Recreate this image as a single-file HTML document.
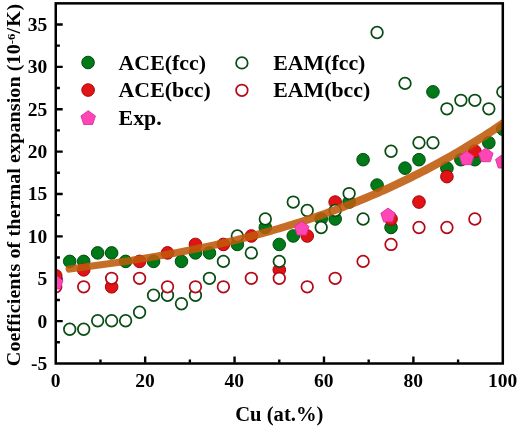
<!DOCTYPE html>
<html><head><meta charset="utf-8"><title>Coefficients of thermal expansion</title>
<style>html,body{margin:0;padding:0;background:#fff;}svg{display:block;}</style></head>
<body>
<svg width="520" height="428" viewBox="0 0 520 428">
<rect width="520" height="428" fill="#fff"/>
<defs><clipPath id="c"><rect x="55.75" y="3.35" width="447.05" height="360.15"/></clipPath></defs>
<path d="M56.5 321.12h6.2 M56.5 278.74h6.2 M56.5 236.36h6.2 M56.5 193.98h6.2 M56.5 151.60h6.2 M56.5 109.22h6.2 M56.5 66.84h6.2 M56.5 24.46h6.2 M56.5 342.31h3.4 M56.5 299.93h3.4 M56.5 257.55h3.4 M56.5 215.17h3.4 M56.5 172.79h3.4 M56.5 130.41h3.4 M56.5 88.03h3.4 M56.5 45.65h3.4 M145.16 362.8v-6.3 M234.57 362.8v-6.3 M323.98 362.8v-6.3 M413.39 362.8v-6.3 M100.46 362.8v-3.4 M189.87 362.8v-3.4 M279.27 362.8v-3.4 M368.69 362.8v-3.4 M458.10 362.8v-3.4" stroke="#000" stroke-width="2.4" fill="none"/>
<g clip-path="url(#c)">
<circle cx="69.72" cy="261.39" r="6.3" fill="#007a18" stroke="#004d0c" stroke-width="1"/>
<circle cx="83.69" cy="261.39" r="6.3" fill="#007a18" stroke="#004d0c" stroke-width="1"/>
<circle cx="97.66" cy="252.91" r="6.3" fill="#007a18" stroke="#004d0c" stroke-width="1"/>
<circle cx="111.63" cy="252.91" r="6.3" fill="#007a18" stroke="#004d0c" stroke-width="1"/>
<circle cx="125.60" cy="261.39" r="6.3" fill="#007a18" stroke="#004d0c" stroke-width="1"/>
<circle cx="153.54" cy="261.39" r="6.3" fill="#007a18" stroke="#004d0c" stroke-width="1"/>
<circle cx="181.48" cy="261.39" r="6.3" fill="#007a18" stroke="#004d0c" stroke-width="1"/>
<circle cx="195.45" cy="252.91" r="6.3" fill="#007a18" stroke="#004d0c" stroke-width="1"/>
<circle cx="209.42" cy="252.91" r="6.3" fill="#007a18" stroke="#004d0c" stroke-width="1"/>
<circle cx="237.36" cy="244.44" r="6.3" fill="#007a18" stroke="#004d0c" stroke-width="1"/>
<circle cx="265.30" cy="227.48" r="6.3" fill="#007a18" stroke="#004d0c" stroke-width="1"/>
<circle cx="279.27" cy="244.44" r="6.3" fill="#007a18" stroke="#004d0c" stroke-width="1"/>
<circle cx="293.25" cy="235.96" r="6.3" fill="#007a18" stroke="#004d0c" stroke-width="1"/>
<circle cx="321.19" cy="219.01" r="6.3" fill="#007a18" stroke="#004d0c" stroke-width="1"/>
<circle cx="335.16" cy="219.01" r="6.3" fill="#007a18" stroke="#004d0c" stroke-width="1"/>
<circle cx="349.13" cy="202.06" r="6.3" fill="#007a18" stroke="#004d0c" stroke-width="1"/>
<circle cx="363.10" cy="159.68" r="6.3" fill="#007a18" stroke="#004d0c" stroke-width="1"/>
<circle cx="377.07" cy="185.10" r="6.3" fill="#007a18" stroke="#004d0c" stroke-width="1"/>
<circle cx="391.04" cy="227.48" r="6.3" fill="#007a18" stroke="#004d0c" stroke-width="1"/>
<circle cx="405.01" cy="168.15" r="6.3" fill="#007a18" stroke="#004d0c" stroke-width="1"/>
<circle cx="418.98" cy="159.68" r="6.3" fill="#007a18" stroke="#004d0c" stroke-width="1"/>
<circle cx="432.95" cy="91.87" r="6.3" fill="#007a18" stroke="#004d0c" stroke-width="1"/>
<circle cx="446.92" cy="168.15" r="6.3" fill="#007a18" stroke="#004d0c" stroke-width="1"/>
<circle cx="460.89" cy="159.68" r="6.3" fill="#007a18" stroke="#004d0c" stroke-width="1"/>
<circle cx="474.86" cy="159.68" r="6.3" fill="#007a18" stroke="#004d0c" stroke-width="1"/>
<circle cx="488.83" cy="142.72" r="6.3" fill="#007a18" stroke="#004d0c" stroke-width="1"/>
<circle cx="502.80" cy="129.16" r="6.3" fill="#007a18" stroke="#004d0c" stroke-width="1"/>
<circle cx="55.75" cy="275.80" r="6.3" fill="#e01414" stroke="#a8000c" stroke-width="1"/>
<circle cx="83.69" cy="269.86" r="6.3" fill="#e01414" stroke="#a8000c" stroke-width="1"/>
<circle cx="111.63" cy="286.82" r="6.3" fill="#e01414" stroke="#a8000c" stroke-width="1"/>
<circle cx="139.57" cy="261.39" r="6.3" fill="#e01414" stroke="#a8000c" stroke-width="1"/>
<circle cx="167.51" cy="252.91" r="6.3" fill="#e01414" stroke="#a8000c" stroke-width="1"/>
<circle cx="195.45" cy="244.44" r="6.3" fill="#e01414" stroke="#a8000c" stroke-width="1"/>
<circle cx="223.39" cy="244.44" r="6.3" fill="#e01414" stroke="#a8000c" stroke-width="1"/>
<circle cx="251.33" cy="235.96" r="6.3" fill="#e01414" stroke="#a8000c" stroke-width="1"/>
<circle cx="279.27" cy="269.86" r="6.3" fill="#e01414" stroke="#a8000c" stroke-width="1"/>
<circle cx="307.22" cy="235.96" r="6.3" fill="#e01414" stroke="#a8000c" stroke-width="1"/>
<circle cx="335.16" cy="202.06" r="6.3" fill="#e01414" stroke="#a8000c" stroke-width="1"/>
<circle cx="391.04" cy="219.01" r="6.3" fill="#e01414" stroke="#a8000c" stroke-width="1"/>
<circle cx="418.98" cy="202.06" r="6.3" fill="#e01414" stroke="#a8000c" stroke-width="1"/>
<circle cx="446.92" cy="176.63" r="6.3" fill="#e01414" stroke="#a8000c" stroke-width="1"/>
<circle cx="474.86" cy="151.20" r="6.3" fill="#e01414" stroke="#a8000c" stroke-width="1"/>
<circle cx="69.72" cy="329.20" r="5.8" fill="#fff" stroke="#0a4d14" stroke-width="1.75"/>
<circle cx="83.69" cy="329.20" r="5.8" fill="#fff" stroke="#0a4d14" stroke-width="1.75"/>
<circle cx="97.66" cy="320.72" r="5.8" fill="#fff" stroke="#0a4d14" stroke-width="1.75"/>
<circle cx="111.63" cy="320.72" r="5.8" fill="#fff" stroke="#0a4d14" stroke-width="1.75"/>
<circle cx="125.60" cy="320.72" r="5.8" fill="#fff" stroke="#0a4d14" stroke-width="1.75"/>
<circle cx="139.57" cy="312.24" r="5.8" fill="#fff" stroke="#0a4d14" stroke-width="1.75"/>
<circle cx="153.54" cy="295.29" r="5.8" fill="#fff" stroke="#0a4d14" stroke-width="1.75"/>
<circle cx="167.51" cy="295.29" r="5.8" fill="#fff" stroke="#0a4d14" stroke-width="1.75"/>
<circle cx="181.48" cy="303.77" r="5.8" fill="#fff" stroke="#0a4d14" stroke-width="1.75"/>
<circle cx="195.45" cy="295.29" r="5.8" fill="#fff" stroke="#0a4d14" stroke-width="1.75"/>
<circle cx="209.42" cy="278.34" r="5.8" fill="#fff" stroke="#0a4d14" stroke-width="1.75"/>
<circle cx="223.39" cy="261.39" r="5.8" fill="#fff" stroke="#0a4d14" stroke-width="1.75"/>
<circle cx="237.36" cy="235.96" r="5.8" fill="#fff" stroke="#0a4d14" stroke-width="1.75"/>
<circle cx="251.33" cy="252.91" r="5.8" fill="#fff" stroke="#0a4d14" stroke-width="1.75"/>
<circle cx="265.30" cy="219.01" r="5.8" fill="#fff" stroke="#0a4d14" stroke-width="1.75"/>
<circle cx="279.27" cy="261.39" r="5.8" fill="#fff" stroke="#0a4d14" stroke-width="1.75"/>
<circle cx="293.25" cy="202.06" r="5.8" fill="#fff" stroke="#0a4d14" stroke-width="1.75"/>
<circle cx="307.22" cy="210.53" r="5.8" fill="#fff" stroke="#0a4d14" stroke-width="1.75"/>
<circle cx="321.19" cy="227.48" r="5.8" fill="#fff" stroke="#0a4d14" stroke-width="1.75"/>
<circle cx="335.16" cy="210.53" r="5.8" fill="#fff" stroke="#0a4d14" stroke-width="1.75"/>
<circle cx="349.13" cy="193.58" r="5.8" fill="#fff" stroke="#0a4d14" stroke-width="1.75"/>
<circle cx="363.10" cy="219.01" r="5.8" fill="#fff" stroke="#0a4d14" stroke-width="1.75"/>
<circle cx="377.07" cy="32.54" r="5.8" fill="#fff" stroke="#0a4d14" stroke-width="1.75"/>
<circle cx="391.04" cy="151.20" r="5.8" fill="#fff" stroke="#0a4d14" stroke-width="1.75"/>
<circle cx="405.01" cy="83.39" r="5.8" fill="#fff" stroke="#0a4d14" stroke-width="1.75"/>
<circle cx="418.98" cy="142.72" r="5.8" fill="#fff" stroke="#0a4d14" stroke-width="1.75"/>
<circle cx="432.95" cy="142.72" r="5.8" fill="#fff" stroke="#0a4d14" stroke-width="1.75"/>
<circle cx="446.92" cy="108.82" r="5.8" fill="#fff" stroke="#0a4d14" stroke-width="1.75"/>
<circle cx="460.89" cy="100.34" r="5.8" fill="#fff" stroke="#0a4d14" stroke-width="1.75"/>
<circle cx="474.86" cy="100.34" r="5.8" fill="#fff" stroke="#0a4d14" stroke-width="1.75"/>
<circle cx="488.83" cy="108.82" r="5.8" fill="#fff" stroke="#0a4d14" stroke-width="1.75"/>
<circle cx="502.80" cy="91.87" r="5.8" fill="#fff" stroke="#0a4d14" stroke-width="1.75"/>
<circle cx="55.75" cy="286.82" r="5.8" fill="#fff" stroke="#b40a18" stroke-width="1.75"/>
<circle cx="83.69" cy="286.82" r="5.8" fill="#fff" stroke="#b40a18" stroke-width="1.75"/>
<circle cx="111.63" cy="278.34" r="5.8" fill="#fff" stroke="#b40a18" stroke-width="1.75"/>
<circle cx="139.57" cy="278.34" r="5.8" fill="#fff" stroke="#b40a18" stroke-width="1.75"/>
<circle cx="167.51" cy="286.82" r="5.8" fill="#fff" stroke="#b40a18" stroke-width="1.75"/>
<circle cx="195.45" cy="286.82" r="5.8" fill="#fff" stroke="#b40a18" stroke-width="1.75"/>
<circle cx="223.39" cy="286.82" r="5.8" fill="#fff" stroke="#b40a18" stroke-width="1.75"/>
<circle cx="251.33" cy="278.34" r="5.8" fill="#fff" stroke="#b40a18" stroke-width="1.75"/>
<circle cx="279.27" cy="278.34" r="5.8" fill="#fff" stroke="#b40a18" stroke-width="1.75"/>
<circle cx="307.22" cy="286.82" r="5.8" fill="#fff" stroke="#b40a18" stroke-width="1.75"/>
<circle cx="335.16" cy="278.34" r="5.8" fill="#fff" stroke="#b40a18" stroke-width="1.75"/>
<circle cx="363.10" cy="261.39" r="5.8" fill="#fff" stroke="#b40a18" stroke-width="1.75"/>
<circle cx="391.04" cy="244.44" r="5.8" fill="#fff" stroke="#b40a18" stroke-width="1.75"/>
<circle cx="418.98" cy="227.48" r="5.8" fill="#fff" stroke="#b40a18" stroke-width="1.75"/>
<circle cx="446.92" cy="227.48" r="5.8" fill="#fff" stroke="#b40a18" stroke-width="1.75"/>
<circle cx="474.86" cy="219.01" r="5.8" fill="#fff" stroke="#b40a18" stroke-width="1.75"/>
<polygon points="68.48,272.67 72.17,272.21 75.86,271.75 79.55,271.28 83.24,270.81 86.93,270.33 90.61,269.85 94.30,269.36 97.99,268.86 101.69,268.36 105.38,267.85 109.07,267.34 112.76,266.81 116.45,266.28 120.14,265.75 123.83,265.20 127.52,264.65 131.22,264.09 134.91,263.52 138.60,262.94 142.29,262.36 145.99,261.76 149.68,261.16 153.37,260.54 157.07,259.92 160.76,259.29 164.45,258.64 168.15,257.99 171.84,257.33 175.54,256.65 179.23,255.97 182.93,255.27 186.62,254.56 190.32,253.84 194.01,253.11 197.71,252.37 201.41,251.61 205.10,250.84 208.80,250.06 212.50,249.27 216.19,248.46 219.89,247.64 223.59,246.81 227.29,245.96 230.98,245.10 234.68,244.22 238.38,243.33 242.08,242.43 245.78,241.51 249.48,240.58 253.18,239.63 256.88,238.66 260.58,237.68 264.28,236.68 267.98,235.67 271.68,234.64 275.38,233.59 279.08,232.53 282.78,231.45 286.48,230.35 290.18,229.24 293.88,228.11 297.58,226.95 301.28,225.79 304.99,224.60 308.69,223.39 312.39,222.17 316.09,220.93 319.80,219.66 323.50,218.38 327.20,217.08 330.90,215.76 334.61,214.42 338.31,213.05 342.01,211.67 345.72,210.27 349.42,208.84 353.13,207.40 356.83,205.93 360.53,204.44 364.24,202.93 367.94,201.40 371.65,199.85 375.35,198.27 379.06,196.67 382.76,195.05 386.47,193.40 390.17,191.73 393.88,190.04 397.58,188.32 401.29,186.58 404.99,184.81 408.70,183.02 412.40,181.21 416.11,179.37 419.82,177.51 423.52,175.62 427.23,173.70 430.93,171.76 434.64,169.80 438.35,167.80 442.05,165.78 445.76,163.74 449.46,161.66 453.17,159.56 456.88,157.44 460.58,155.28 464.29,153.10 467.99,150.89 471.70,148.65 475.41,146.38 479.11,144.09 482.82,141.77 486.53,139.41 490.23,137.03 493.94,134.62 497.64,132.18 501.35,129.71 505.06,127.20 508.75,124.68 504.00,117.74 500.33,120.26 496.67,122.75 493.01,125.20 489.35,127.63 485.69,130.02 482.03,132.39 478.36,134.73 474.70,137.03 471.04,139.32 467.38,141.57 463.72,143.79 460.06,145.99 456.40,148.16 452.74,150.30 449.08,152.41 445.42,154.50 441.76,156.56 438.10,158.60 434.44,160.60 430.77,162.59 427.11,164.54 423.45,166.47 419.79,168.38 416.13,170.26 412.47,172.11 408.81,173.94 405.15,175.75 401.49,177.53 397.82,179.28 394.16,181.02 390.50,182.73 386.84,184.41 383.18,186.07 379.51,187.71 375.85,189.33 372.19,190.92 368.53,192.50 364.87,194.05 361.20,195.57 357.54,197.08 353.88,198.56 350.22,200.03 346.55,201.47 342.89,202.89 339.23,204.29 335.56,205.67 331.90,207.03 328.24,208.37 324.57,209.69 320.91,210.99 317.24,212.27 313.58,213.53 309.91,214.77 306.25,216.00 302.58,217.20 298.92,218.39 295.25,219.56 291.59,220.71 287.92,221.84 284.26,222.96 280.59,224.06 276.93,225.14 273.26,226.21 269.59,227.25 265.93,228.29 262.26,229.30 258.59,230.30 254.92,231.29 251.26,232.26 247.59,233.21 243.92,234.15 240.25,235.07 236.59,235.98 232.92,236.88 229.25,237.76 225.58,238.62 221.91,239.48 218.24,240.31 214.57,241.14 210.90,241.95 207.23,242.75 203.56,243.54 199.89,244.31 196.22,245.08 192.55,245.83 188.88,246.56 185.21,247.29 181.54,248.01 177.86,248.71 174.19,249.40 170.52,250.08 166.85,250.76 163.17,251.42 159.50,252.07 155.83,252.71 152.15,253.34 148.48,253.96 144.81,254.58 141.13,255.18 137.46,255.77 133.79,256.36 130.11,256.94 126.44,257.51 122.76,258.07 119.09,258.62 115.41,259.17 111.73,259.71 108.06,260.24 104.38,260.77 100.71,261.28 97.03,261.80 93.35,262.30 89.67,262.80 86.00,263.30 82.32,263.78 78.64,264.27 74.96,264.74 71.29,265.22 67.61,265.68 66.70,266.07 66.01,266.92 65.62,268.12 65.60,269.48 65.95,270.80 66.63,271.86 67.51,272.52" fill="rgba(190,90,10,0.88)"/>
<polygon points="55.75,275.21 62.98,280.46 60.22,288.96 51.28,288.96 48.52,280.46" fill="#ff46b4" stroke="#d62fa0" stroke-width="0.9" stroke-linejoin="round"/>
<polygon points="301.76,221.22 308.99,226.47 306.23,234.96 297.29,234.96 294.53,226.47" fill="#ff46b4" stroke="#d62fa0" stroke-width="0.9" stroke-linejoin="round"/>
<polygon points="388.04,208.08 395.27,213.33 392.51,221.83 383.58,221.83 380.81,213.33" fill="#ff46b4" stroke="#d62fa0" stroke-width="0.9" stroke-linejoin="round"/>
<polygon points="466.59,150.95 473.82,156.20 471.06,164.70 462.12,164.70 459.36,156.20" fill="#ff46b4" stroke="#d62fa0" stroke-width="0.9" stroke-linejoin="round"/>
<polygon points="485.81,147.98 493.04,153.24 490.28,161.73 481.34,161.73 478.58,153.24" fill="#ff46b4" stroke="#d62fa0" stroke-width="0.9" stroke-linejoin="round"/>
<polygon points="502.80,154.26 510.03,159.51 507.27,168.00 498.33,168.00 495.57,159.51" fill="#ff46b4" stroke="#d62fa0" stroke-width="0.9" stroke-linejoin="round"/>
</g>
<rect x="55.75" y="3.35" width="447.05" height="360.15" fill="none" stroke="#000" stroke-width="2.5"/>
<g font-family="'Liberation Serif', 'Times New Roman', serif" font-weight="bold" fill="#000">
<g font-size="19.5" text-anchor="end">
<text x="47.2" y="369.90">-5</text>
<text x="47.2" y="327.52">0</text>
<text x="47.2" y="285.14">5</text>
<text x="47.2" y="242.76">10</text>
<text x="47.2" y="200.38">15</text>
<text x="47.2" y="158.00">20</text>
<text x="47.2" y="115.62">25</text>
<text x="47.2" y="73.24">30</text>
<text x="47.2" y="30.86">35</text>
</g>
<g font-size="19.5" text-anchor="middle">
<text x="55.55" y="386.8">0</text>
<text x="144.96" y="386.8">20</text>
<text x="234.37" y="386.8">40</text>
<text x="323.78" y="386.8">60</text>
<text x="413.19" y="386.8">80</text>
<text x="502.60" y="386.8">100</text>
</g>
<text x="279.3" y="420.7" font-size="20.6" text-anchor="middle">Cu (at.%)</text>
<text transform="translate(20.4 184.9) rotate(-90) scale(1.1 1)" font-size="18.2" letter-spacing="0.1" text-anchor="middle">Coefficients of thermal expansion (10<tspan font-size="11.4" dy="-5.7">-6</tspan><tspan dy="5.7">/</tspan><tspan dx="0.9">K</tspan><tspan dx="0.7">)</tspan></text>
<g font-size="21.85">
<text x="118.6" y="69.9">ACE(fcc)</text>
<text x="118.6" y="97.4">ACE(bcc)</text>
<text x="118.6" y="125">Exp.</text>
<text x="273.2" y="69.9">EAM(fcc)</text>
<text x="273.2" y="97.4">EAM(bcc)</text>
</g></g>
<circle cx="88.05" cy="62.50" r="6.3" fill="#007a18" stroke="#004d0c" stroke-width="1"/>
<circle cx="88.10" cy="90.05" r="6.3" fill="#e01414" stroke="#a8000c" stroke-width="1"/>
<polygon points="88.20,110.70 95.43,115.95 92.67,124.45 83.73,124.45 80.97,115.95" fill="#ff46b4" stroke="#d62fa0" stroke-width="0.9" stroke-linejoin="round"/>
<circle cx="241.90" cy="62.90" r="5.8" fill="#fff" stroke="#0a4d14" stroke-width="1.75"/>
<circle cx="241.90" cy="90.30" r="5.8" fill="#fff" stroke="#b40a18" stroke-width="1.75"/>
</svg>
</body></html>
